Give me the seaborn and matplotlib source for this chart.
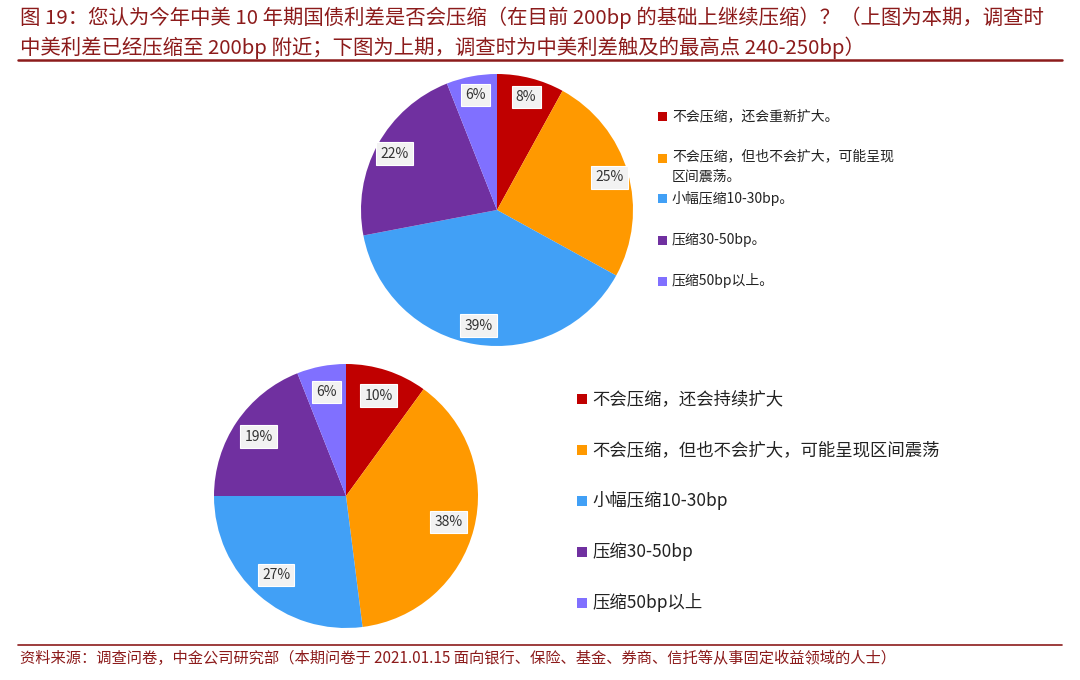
import matplotlib.pyplot as plt
import seaborn as sns
from matplotlib.patches import Rectangle
from matplotlib.lines import Line2D

sns.set_theme(style="white")
plt.rcParams['font.family'] = ['Noto Sans CJK SC', 'DejaVu Sans']

# 数据
cur_labels = ["不会压缩，还会重新扩大。", "不会压缩，但也不会扩大，可能呈现\n区间震荡。",
              "小幅压缩10-30bp。", "压缩30-50bp。", "压缩50bp以上。"]
cur_values = [8, 25, 39, 22, 6]
prev_labels = ["不会压缩，还会持续扩大", "不会压缩，但也不会扩大，可能呈现区间震荡",
               "小幅压缩10-30bp", "压缩30-50bp", "压缩50bp以上"]
prev_values = [10, 38, 27, 19, 6]
colors = sns.color_palette(["#C00000", "#FF9900", "#41A0F6", "#7030A0", "#8070FF"])

title_text = ("图 19：您认为今年中美 10 年期国债利差是否会压缩（在目前 200bp 的基础上继续压缩）？（上图为本期，调查时\n"
              "中美利差已经压缩至 200bp 附近；下图为上期，调查时为中美利差触及的最高点 240-250bp）")
source_text = "资料来源：调查问卷，中金公司研究部（本期问卷于 2021.01.15 面向银行、保险、基金、券商、信托等从事固定收益领域的人士）"

W, H = 1080, 680
fig = plt.figure(figsize=(W / 100, H / 100), dpi=100)
dark_red = "#8C1B1B"


def px_axes(cx, cy, r):
    return fig.add_axes([(cx - r) / W, 1 - (cy + r) / H, 2 * r / W, 2 * r / H])


def draw_pie(ax, values, pctdist):
    wedges, _, autotexts = ax.pie(values, colors=colors, startangle=90, counterclock=False,
                                  autopct=lambda p: f"{p:.0f}%", pctdistance=pctdist,
                                  wedgeprops=dict(linewidth=0))
    for t in autotexts:
        t.set_fontsize(10)
        t.set_color("#333333")
        t.set_bbox(dict(facecolor="#F2F2F2", edgecolor="white", boxstyle="square,pad=0.3", linewidth=0.8))
    ax.set_xlim(-1, 1)
    ax.set_ylim(-1, 1)
    return wedges


ax1 = px_axes(497, 210, 136)
draw_pie(ax1, cur_values, 0.86)
ax2 = px_axes(346, 496, 132)
draw_pie(ax2, prev_values, 0.8)


# 图例（手动排版）
def draw_legend(labels, x, ys, size, fs):
    for lab, y, c in zip(labels, ys, colors):
        fig.add_artist(Rectangle((x / W, 1 - (y + size / 2) / H), size / W, size / H,
                                 facecolor=c, edgecolor="none", transform=fig.transFigure))
        if "\n" in lab:
            fig.text((x + size + 5) / W, 1 - (y - 9) / H, lab, fontsize=fs, color="#222222",
                     va="top", linespacing=1.6)
        else:
            fig.text((x + size + 5) / W, 1 - y / H, lab, fontsize=fs, color="#222222", va="center")


draw_legend(cur_labels, 658, [116, 158, 198, 240, 281], 9, 10)
draw_legend(prev_labels, 577, [399, 450, 501, 552, 603], 10, 12.5)

fig.text(20 / W, 1 - 7 / H, title_text, fontsize=14.7, color=dark_red, style="italic",
         va="top", linespacing=1.4)
fig.add_artist(Line2D([18 / W, 1062 / W], [1 - 60 / H] * 2, color=dark_red, linewidth=1.8))
fig.add_artist(Line2D([18 / W, 1062 / W], [1 - 645 / H] * 2, color=dark_red, linewidth=1.2))
fig.text(20 / W, 1 - 658 / H, source_text, fontsize=11, color=dark_red, style="italic", va="center")

fig.savefig("out.png", dpi=100)
